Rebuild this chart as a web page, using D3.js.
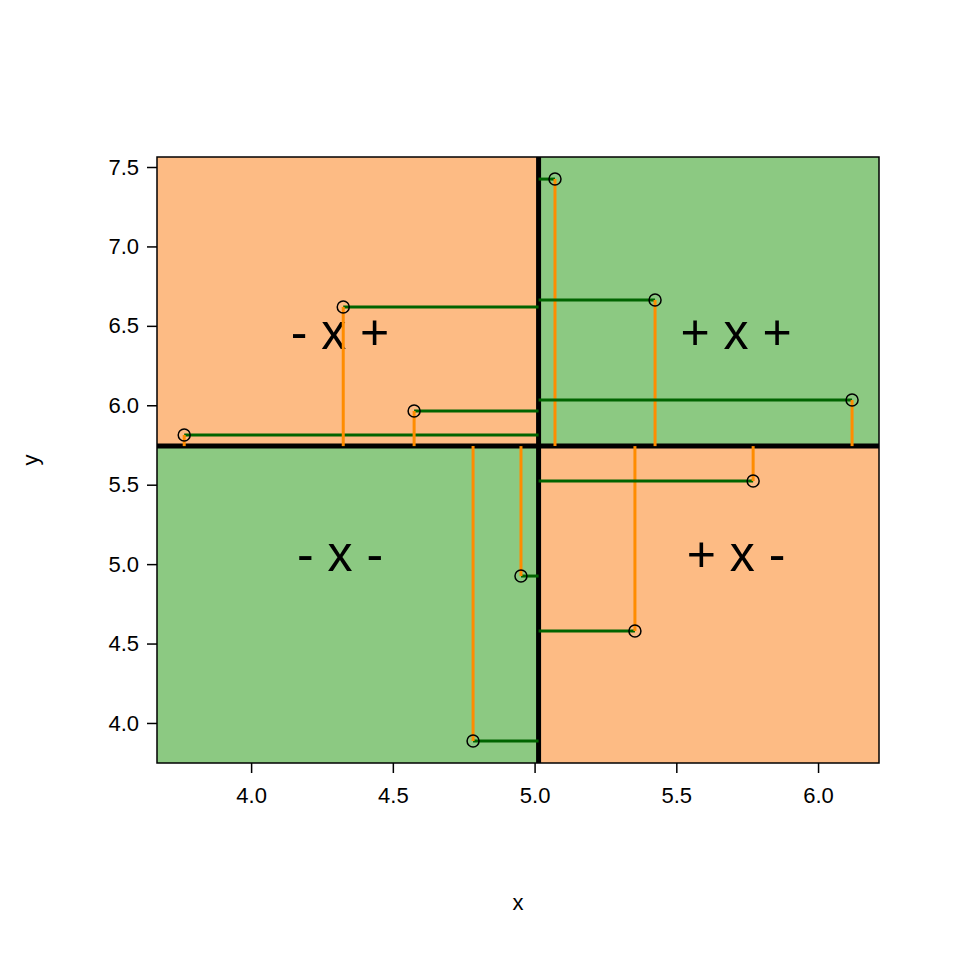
<!DOCTYPE html><html><head><script src="https://cdn.jsdelivr.net/npm/d3@7"></script>
<style>body{margin:0;background:#fff}</style></head><body><svg id="c" width="960" height="960"></svg>
<script>
const xs=[3.764,4.325,4.575,4.783,4.952,5.072,5.425,5.354,5.771,6.120];
const ys=[5.813,6.619,5.964,3.887,4.925,7.424,6.663,4.579,5.523,6.033];
const xTicks=[4.0,4.5,5.0,5.5,6.0];
const yTicks=[4.0,4.5,5.0,5.5,6.0,6.5,7.0,7.5];
const quadLabels=["- x +","+ x +","- x -","+ x -"];
const svg=d3.select("#c"),F="Liberation Sans, Arial, sans-serif";
const L=157,R=879,T=157,B=763;
const x=d3.scaleLinear().domain([3.668,6.215]).range([L,R]);
const y=d3.scaleLinear().domain([3.748,7.563]).range([B,T]);
const mx=d3.mean(xs),my=d3.mean(ys);
const OR="#FDBB84",GR="#8CC982";
const q=[[L,x(mx),T,y(my),OR],[x(mx),R,T,y(my),GR],[L,x(mx),y(my),B,GR],[x(mx),R,y(my),B,OR]];
q.forEach(d=>svg.append("rect").attr("x",d[0]).attr("y",d[2]).attr("width",d[1]-d[0]).attr("height",d[3]-d[2]).attr("fill",d[4]));
const pos=[[340,336],[736,336],[340,558],[736,558]];
quadLabels.forEach((t,i)=>svg.append("text").attr("x",pos[i][0]).attr("y",pos[i][1]).attr("text-anchor","middle").attr("dominant-baseline","middle").attr("font-family",F).attr("font-size",50).text(t));
svg.append("line").attr("x1",x(mx)).attr("x2",x(mx)).attr("y1",T).attr("y2",B).attr("stroke","#000").attr("stroke-width",5);
svg.append("line").attr("x1",L).attr("x2",R).attr("y1",y(my)).attr("y2",y(my)).attr("stroke","#000").attr("stroke-width",5);
xs.forEach((v,i)=>{
 svg.append("line").attr("x1",x(v)).attr("x2",x(mx)).attr("y1",y(ys[i])).attr("y2",y(ys[i])).attr("stroke","#006400").attr("stroke-width",3);
 svg.append("line").attr("x1",x(v)).attr("x2",x(v)).attr("y1",y(ys[i])).attr("y2",y(my)).attr("stroke","#FF8C00").attr("stroke-width",3);
});
xs.forEach((v,i)=>svg.append("circle").attr("cx",x(v)).attr("cy",y(ys[i])).attr("r",6).attr("fill","none").attr("stroke","#000").attr("stroke-width",1.5));
svg.append("rect").attr("x",L).attr("y",T).attr("width",R-L).attr("height",B-T).attr("fill","none").attr("stroke","#000").attr("stroke-width",1.5);
const xa=svg.append("g").attr("transform",`translate(0,${B})`).call(d3.axisBottom(x).tickValues(xTicks).tickFormat(d3.format(".1f")).tickSize(10).tickPadding(14));
const ya=svg.append("g").attr("transform",`translate(${L},0)`).call(d3.axisLeft(y).tickValues(yTicks).tickFormat(d3.format(".1f")).tickSize(10).tickPadding(8));
[xa,ya].forEach(a=>{a.selectAll("text").attr("font-family",F).attr("font-size",22).attr("fill","#000");a.select(".domain").remove();a.selectAll("line").attr("stroke-width",1.5);});
svg.append("text").attr("x",518).attr("y",910).attr("text-anchor","middle").attr("font-family",F).attr("font-size",22).text("x");
svg.append("text").attr("transform","translate(38,460) rotate(-90)").attr("text-anchor","middle").attr("font-family",F).attr("font-size",22).text("y");
</script></body></html>
